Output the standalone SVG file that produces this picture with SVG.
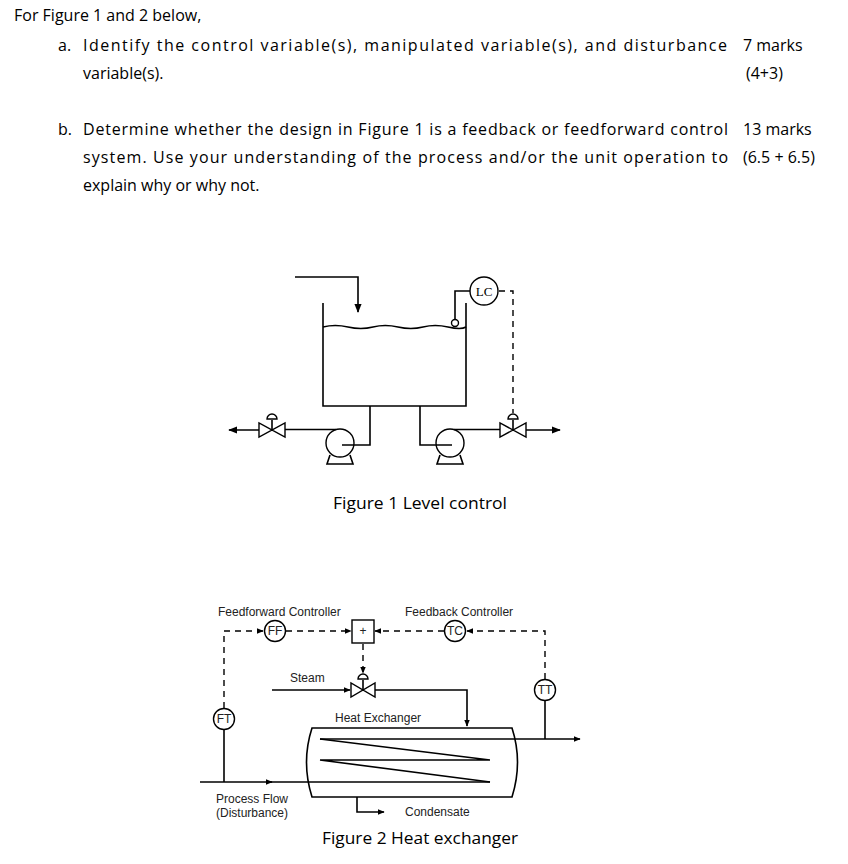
<svg xmlns="http://www.w3.org/2000/svg" width="848" height="864" viewBox="0 0 848 864">
<style>
.t{font-family:"Open Sans","Liberation Sans",sans-serif;font-size:16px;fill:#000}
.f{font-family:"Open Sans","Liberation Sans",sans-serif;font-size:16.5px;fill:#000}
.s{font-family:"Liberation Sans",Arial,sans-serif;font-size:12px;fill:#222}
.l{fill:none;stroke:#000;stroke-width:1.6}
.d{fill:none;stroke:#000;stroke-width:1.4;stroke-dasharray:6,5}
.c{fill:#fff;stroke:#000;stroke-width:1.4}
</style>
<defs>
<marker id="a" viewBox="0 0 10 10" refX="9" refY="5" markerWidth="7" markerHeight="7" markerUnits="userSpaceOnUse" orient="auto"><path d="M0,1 L10,5 L0,9 z" fill="#000"/></marker>
<marker id="b" viewBox="0 0 10 10" refX="9" refY="5" markerWidth="9" markerHeight="9" markerUnits="userSpaceOnUse" orient="auto"><path d="M0,1 L10,5 L0,9 z" fill="#000"/></marker>
</defs>
<rect width="848" height="864" fill="#fff"/>
<g id="question">
<text class="t" x="14" y="21">For Figure 1 and 2 below,</text>
<text class="t" x="58" y="51">a.</text>
<text class="t" x="83" y="51" textLength="644" lengthAdjust="spacing">Identify the control variable(s), manipulated variable(s), and disturbance</text>
<text class="t" x="743" y="51">7 marks</text>
<text class="t" x="83" y="79">variable(s).</text>
<text class="t" x="746" y="79">(4+3)</text>
<text class="t" x="58" y="135">b.</text>
<text class="t" x="83" y="135" textLength="645" lengthAdjust="spacing">Determine whether the design in Figure 1 is a feedback or feedforward control</text>
<text class="t" x="743" y="135">13 marks</text>
<text class="t" x="83" y="163" textLength="645" lengthAdjust="spacing">system. Use your understanding of the process and/or the unit operation to</text>
<text class="t" x="743" y="163">(6.5 + 6.5)</text>
<text class="t" x="83" y="191">explain why or why not.</text>
</g>
<g id="figure1">
<g id="tank">
<path class="l" d="M323,303 V406 H466 V303"/>
<path class="l" d="M323,327 q12,-3 25,0 t25,0 t25,0 t25,0 t25,0 t18,0"/>
<circle class="c" cx="455" cy="323" r="3.5"/>
</g>
<g id="LC"><circle class="c" cx="484" cy="291" r="14"/><text x="484" y="296" text-anchor="middle" font-family="Liberation Serif,serif" font-size="13">LC</text></g>
<g id="pump1"><circle class="c" cx="340" cy="443" r="14"/><path class="l" d="M330,455 L327,464 H353 L350,455"/></g>
<g id="pump2"><circle class="c" cx="450" cy="443" r="14"/><path class="l" d="M440,455 L437,464 H463 L460,455"/></g>
<g id="valve1"><path class="c" d="M259,423 V437 L285,423 V437 Z"/><path class="l" d="M272,430 V420"/><path class="c" d="M267,419 a5,5 0 0 1 10,0 z"/></g>
<g id="valve2"><path class="c" d="M500,423 V437 L526,423 V437 Z"/><path class="l" d="M513,430 V420"/><path class="c" d="M508,419 a5,5 0 0 1 10,0 z"/></g>
<g id="connectors1">
<path class="l" d="M295,277 H358 V312" marker-end="url(#b)"/>
<path class="l" d="M455,319 V291 H470"/>
<path class="d" d="M499,291 H513 V413" stroke-dasharray="4,3"/>
<path class="l" d="M370,406 V445 H342"/>
<path class="l" d="M420,406 V445 H452"/>
<path class="l" d="M336,429.5 H285 M259,430 H229" marker-end="url(#b)"/>
<path class="l" d="M454,429.5 H500 M526,430 H560" marker-end="url(#b)"/>
</g>
<text class="f" x="333" y="509" textLength="174" lengthAdjust="spacingAndGlyphs">Figure 1 Level control</text>
</g>
<g id="figure2">
<text class="s" x="218" y="616">Feedforward Controller</text>
<text class="s" x="405" y="616">Feedback Controller</text>
<g id="FF"><circle class="c" cx="275" cy="631" r="10.5"/><text class="s" x="275" y="635" text-anchor="middle">FF</text></g>
<g id="sum"><rect class="c" x="352" y="620" width="22" height="23"/><text class="s" x="363" y="635" text-anchor="middle">+</text></g>
<g id="TC"><circle class="c" cx="455" cy="631" r="10.5"/><text class="s" x="455" y="635" text-anchor="middle">TC</text></g>
<g id="TT"><circle class="c" cx="545" cy="690" r="10.5"/><text class="s" x="545" y="694" text-anchor="middle">TT</text></g>
<g id="FT"><circle class="c" cx="224" cy="719" r="10.5"/><text class="s" x="224" y="723" text-anchor="middle">FT</text></g>
<g id="steamvalve"><path class="c" d="M351,683 V697 L375,683 V697 Z"/><path class="l" d="M363,690 V680"/><path class="c" d="M358,679 a5,5 0 0 1 10,0 z"/></g>
<g id="exchanger">
<path class="l" d="M312,728 H512 Q523,762 512,797 H312 Q301,762 312,728 Z"/>
<path class="l" d="M320,739 L490,760 M320,760 H490 M320,760 L490,782"/>
</g>
<g id="connectors2">
<path class="d" d="M224,708 V631 H263" marker-end="url(#a)"/>
<path class="d" d="M286,631 H351" marker-end="url(#a)"/>
<path class="d" d="M545,679 V631 H467" marker-end="url(#a)"/>
<path class="d" d="M444,631 H375" marker-end="url(#a)"/>
<path class="d" d="M363,644 V673" marker-end="url(#a)"/>
<path class="l" d="M272,690 H350" stroke-width="1.3" marker-end="url(#a)"/>
<path class="l" d="M375,690 H467 V726" stroke-width="1.3" marker-end="url(#a)"/>
<path class="l" d="M224,730 V782" stroke-width="1.3"/>
<path class="l" d="M200,782 H272" stroke-width="1.3" marker-end="url(#a)"/>
<path class="l" d="M270,782 H490" stroke-width="1.3"/>
<path class="l" d="M320,739 H580" stroke-width="1.3" marker-end="url(#a)"/>
<path class="l" d="M545,701 V739" stroke-width="1.3"/>
<path class="l" d="M357,797 V812 H384" stroke-width="1.3" marker-end="url(#a)"/>
</g>
<text class="s" x="290" y="682">Steam</text>
<text class="s" x="335" y="722">Heat Exchanger</text>
<text class="s" x="216" y="803">Process Flow</text>
<text class="s" x="216" y="817">(Disturbance)</text>
<text class="s" x="405" y="816">Condensate</text>
<text class="f" x="322" y="844" textLength="196" lengthAdjust="spacingAndGlyphs">Figure 2 Heat exchanger</text>
</g>
</svg>
